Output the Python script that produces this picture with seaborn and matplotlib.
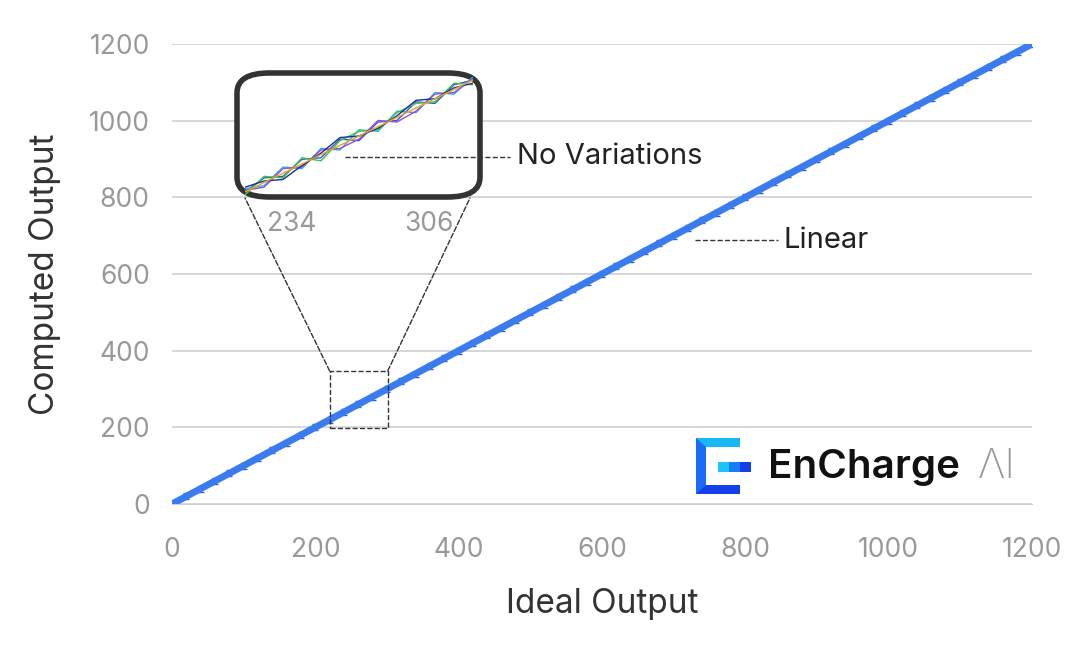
import numpy as np
import pandas as pd
import matplotlib.pyplot as plt
import seaborn as sns
from matplotlib.patches import FancyBboxPatch, Rectangle, Polygon, ConnectionPatch
from matplotlib.lines import Line2D

sns.set_style("white")
plt.rcParams['font.family'] = ['Inter', 'DejaVu Sans']

# main series: computed output equals ideal output
ideal = np.arange(0, 1201, 20)
computed = ideal.copy()

# zoomed window, ideal values 234..306
zoom_x = [234, 240, 246, 252, 258, 264, 270, 276, 282, 288, 294, 300, 306]
zoom_runs = {
    'run1': [234, 243, 244, 255, 256, 268, 267, 279, 280, 292, 291, 303, 306],
    'run2': [236, 238, 250, 249, 262, 261, 274, 273, 286, 285, 298, 297, 308],
    'run3': [232, 244, 243, 256, 254, 267, 273, 274, 285, 291, 292, 304, 303],
    'run4': [235, 237, 249, 250, 261, 262, 268, 280, 279, 286, 297, 298, 307],
    'run5': [237, 241, 242, 251, 259, 269, 270, 275, 283, 293, 294, 301, 304],
    'run6': [234, 240, 246, 252, 258, 264, 270, 276, 282, 288, 294, 300, 306],
}
zoom_colors = ['#2a5bd7', '#1fb5e8', '#3cc43c', '#9b4fd0', '#1c2f9e', '#f0a020']

fig = plt.figure(figsize=(10.8, 6.58), dpi=100)
ax = fig.add_axes([172/1080, 1-504/658, 860/1080, 460/658])

ax.errorbar(ideal, computed, yerr=8, color='#3a7bf0', lw=5, ecolor='#2a5fd0',
            elinewidth=1, capsize=2, capthick=1, zorder=3)
ax.set_xlim(0, 1200)
ax.set_ylim(0, 1200)
ax.set_xticks(range(0, 1201, 200))
ax.set_yticks(range(0, 1201, 200))
ax.grid(axis='y', color='#d0d0d0', lw=1.2)
for s in ['top', 'right', 'left']:
    ax.spines[s].set_visible(False)
ax.spines['bottom'].set_color('#d0d0d0')
ax.tick_params(colors='#999999', labelsize=19, length=0)
ax.tick_params(axis='x', pad=24)
ax.tick_params(axis='y', pad=16)
ax.set_xlabel('Ideal Output', fontsize=24, color='#333333', labelpad=18)
ax.set_ylabel('Computed Output', fontsize=24, color='#333333', labelpad=20)

# dashed zoom rectangle
ax.add_patch(Rectangle((220, 198), 81, 149, fill=False, ls='--', lw=1, ec='#333333', zorder=4))

# inset
box = FancyBboxPatch((237/1080, 1-197/658), 243/1080, 124/658,
                     boxstyle='round,pad=0,rounding_size=0.03', transform=fig.transFigure,
                     fill=True, fc='white', ec='#333333', lw=4, zorder=5)
fig.add_artist(box)
iax = fig.add_axes([245/1080, 1-195/658, 228/1080, 118/658], zorder=6)
iax.patch.set_alpha(0)
df = pd.DataFrame(zoom_runs)
df['x'] = zoom_x
df = df.melt(id_vars='x', var_name='run', value_name='y')
sns.lineplot(df, x='x', y='y', hue='run', palette=zoom_colors, lw=1, ax=iax, legend=False)
iax.set_xlim(234, 306)
iax.set_ylim(232, 308)
iax.axis('off')
fig.text(292/1080, 1-224/658, '234', fontsize=19, color='#999999', ha='center', va='center')
fig.text(429/1080, 1-224/658, '306', fontsize=19, color='#999999', ha='center', va='center')

# connector lines
for (xd, xf) in [(220, 245), (301, 470)]:
    fig.add_artist(ConnectionPatch(xyA=(xd, 347), coordsA=ax.transData,
                                   xyB=(xf/1080, 1-198/658), coordsB=fig.transFigure,
                                   ls='--', lw=1, color='#333333'))

# annotations
fig.add_artist(Line2D([345/1080, 510/1080], [1-157/658]*2, ls='--', lw=1, color='#333333', zorder=7))
fig.text(517/1080, 1-157/658, 'No Variations', fontsize=21, color='#222222', va='center')
fig.add_artist(Line2D([695/1080, 778/1080], [1-240/658]*2, ls='--', lw=1, color='#333333'))
fig.text(783/1080, 1-240/658, 'Linear', fontsize=21, color='#222222', va='center')

# logo
def px(x, y):
    return (x/1080, 1-y/658)
fig.add_artist(Polygon([px(696, 438), px(740, 438), px(740, 447), px(706, 447), px(706, 485),
                        px(740, 485), px(740, 494), px(696, 494)], closed=True,
                       transform=fig.transFigure, fc='#1a6cf5', ec='none'))
fig.add_artist(Polygon([px(696, 438), px(740, 438), px(740, 447), px(706, 447)], closed=True,
                       transform=fig.transFigure, fc='#19b8f5', ec='none'))
fig.add_artist(Polygon([px(706, 485), px(740, 485), px(740, 494), px(696, 494)], closed=True,
                       transform=fig.transFigure, fc='#1340e8', ec='none'))
for x0, c in [(718, '#19c6f5'), (729, '#1a7cf5'), (740, '#1340e8')]:
    fig.add_artist(Rectangle(px(x0, 472), 11/1080, 10/658, transform=fig.transFigure, fc=c, ec='none'))
fig.text(768/1080, 1-467/658, 'EnCharge', fontsize=29, fontweight='semibold', color='#111111', va='center')
fig.text(978/1080, 1-467/658, 'ΛI', fontsize=30, fontweight='light', color='#999999', va='center')

plt.savefig('out.png', dpi=100)
